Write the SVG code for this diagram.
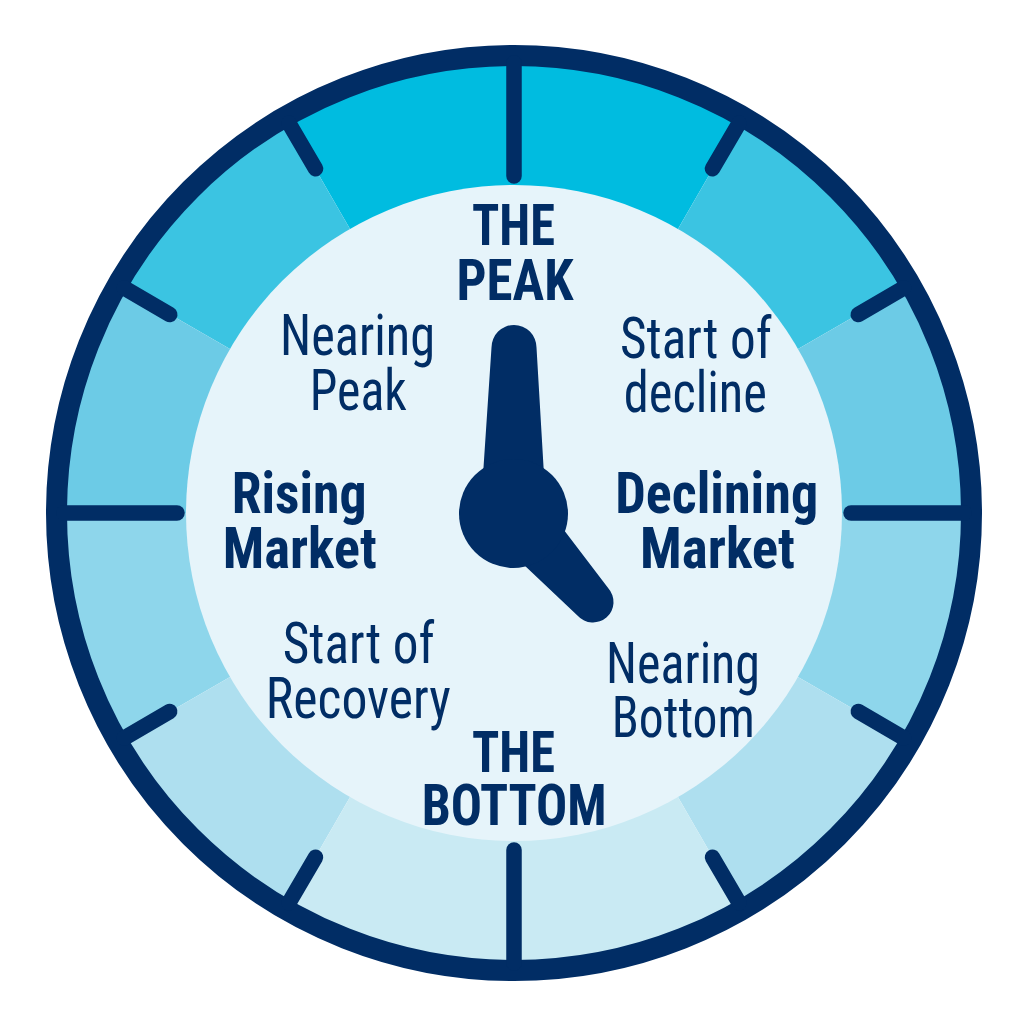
<svg xmlns="http://www.w3.org/2000/svg" width="1019" height="1024" viewBox="0 0 1019 1024">
<style>
.t{font-family:"Liberation Sans Narrow","Roboto Condensed","Liberation Sans",Arial,sans-serif;font-size:57px;fill:#012d65;text-anchor:middle}
.b{font-weight:bold}
.tick{stroke:#012d65;stroke-width:15.5;stroke-linecap:round;fill:none}
</style>
<rect width="1019" height="1024" fill="#ffffff"/>
<g id="dial-segments">
<path d="M514,513 L289,123.3 A450,450 0 0 1 739,123.3 Z" fill="#00bce0"/>
<path d="M514,513 L739,123.3 A450,450 0 0 1 903.7,288 Z" fill="#3bc4e2"/>
<path d="M514,513 L124.3,288 A450,450 0 0 1 289,123.3 Z" fill="#3bc4e2"/>
<path d="M514,513 L903.7,288 A450,450 0 0 1 964,513 Z" fill="#6ccbe6"/>
<path d="M514,513 L64,513 A450,450 0 0 1 124.3,288 Z" fill="#6ccbe6"/>
<path d="M514,513 L964,513 A450,450 0 0 1 903.7,738 Z" fill="#8ed6eb"/>
<path d="M514,513 L124.3,738 A450,450 0 0 1 64,513 Z" fill="#8ed6eb"/>
<path d="M514,513 L903.7,738 A450,450 0 0 1 739,902.7 Z" fill="#aedfef"/>
<path d="M514,513 L289,902.7 A450,450 0 0 1 124.3,738 Z" fill="#aedfef"/>
<path d="M514,513 L739,902.7 A450,450 0 0 1 289,902.7 Z" fill="#c9eaf3"/>
</g>
<g id="face">
<circle cx="514" cy="513" r="328" fill="#e6f4fa"/>
</g>
<g id="rim">
<circle cx="514" cy="513" r="457.5" fill="none" stroke="#012d65" stroke-width="21"/>
</g>
<g id="ticks">
<line class="tick" x1="514" y1="176" x2="514" y2="63"/>
<line class="tick" x1="514" y1="850" x2="514" y2="963"/>
<line class="tick" x1="177" y1="513" x2="64" y2="513"/>
<line class="tick" x1="851" y1="513" x2="964" y2="513"/>
<line class="tick" x1="712.5" y1="168.7" x2="739" y2="123.3"/>
<line class="tick" x1="315.5" y1="168.7" x2="289" y2="123.3"/>
<line class="tick" x1="712.5" y1="857.3" x2="739" y2="902.7"/>
<line class="tick" x1="315.5" y1="857.3" x2="289" y2="902.7"/>
<line class="tick" x1="858.3" y1="314.5" x2="903.7" y2="288"/>
<line class="tick" x1="169.7" y1="314.5" x2="124.3" y2="288"/>
<line class="tick" x1="858.3" y1="711.5" x2="903.7" y2="738"/>
<line class="tick" x1="169.7" y1="711.5" x2="124.3" y2="738"/>
</g>
<g id="hands" fill="#012d65">
<path d="M483,475 L491.5,347.5 A22.5,22.5 0 0 1 536.5,347.5 L544,475 Z"/>
<path d="M560.3,525.3 L608.3,588.3 A20.5,20.5 0 0 1 577.7,615.7 L520.1,561.3 Z"/>
<circle cx="513.5" cy="513.5" r="54.5"/>
</g>
<g id="label-peak"><text class="t b" x="513.4" y="245" textLength="83" lengthAdjust="spacingAndGlyphs">THE</text><text class="t b" x="515" y="300" textLength="117" lengthAdjust="spacingAndGlyphs">PEAK</text></g>
<g id="label-nearing-peak"><text class="t" x="357.5" y="355" textLength="155" lengthAdjust="spacingAndGlyphs">Nearing</text><text class="t" x="358.3" y="410" textLength="97" lengthAdjust="spacingAndGlyphs">Peak</text></g>
<g id="label-start-decline"><text class="t" x="696" y="357.5" textLength="152" lengthAdjust="spacingAndGlyphs">Start of</text><text class="t" x="695.3" y="412" textLength="143" lengthAdjust="spacingAndGlyphs">decline</text></g>
<g id="label-rising"><text class="t b" x="299.2" y="513" textLength="135" lengthAdjust="spacingAndGlyphs">Rising</text><text class="t b" x="299.7" y="568" textLength="154" lengthAdjust="spacingAndGlyphs">Market</text></g>
<g id="label-declining"><text class="t b" x="716.7" y="513" textLength="203" lengthAdjust="spacingAndGlyphs">Declining</text><text class="t b" x="717.5" y="568" textLength="155" lengthAdjust="spacingAndGlyphs">Market</text></g>
<g id="label-start-recovery"><text class="t" x="358.8" y="663" textLength="152" lengthAdjust="spacingAndGlyphs">Start of</text><text class="t" x="358.3" y="718" textLength="185" lengthAdjust="spacingAndGlyphs">Recovery</text></g>
<g id="label-nearing-bottom"><text class="t" x="683" y="683" textLength="154" lengthAdjust="spacingAndGlyphs">Nearing</text><text class="t" x="683.3" y="737" textLength="143" lengthAdjust="spacingAndGlyphs">Bottom</text></g>
<g id="label-bottom"><text class="t b" x="513.4" y="771.5" textLength="83" lengthAdjust="spacingAndGlyphs">THE</text><text class="t b" x="514.2" y="825" textLength="185" lengthAdjust="spacingAndGlyphs">BOTTOM</text></g>
</svg>
